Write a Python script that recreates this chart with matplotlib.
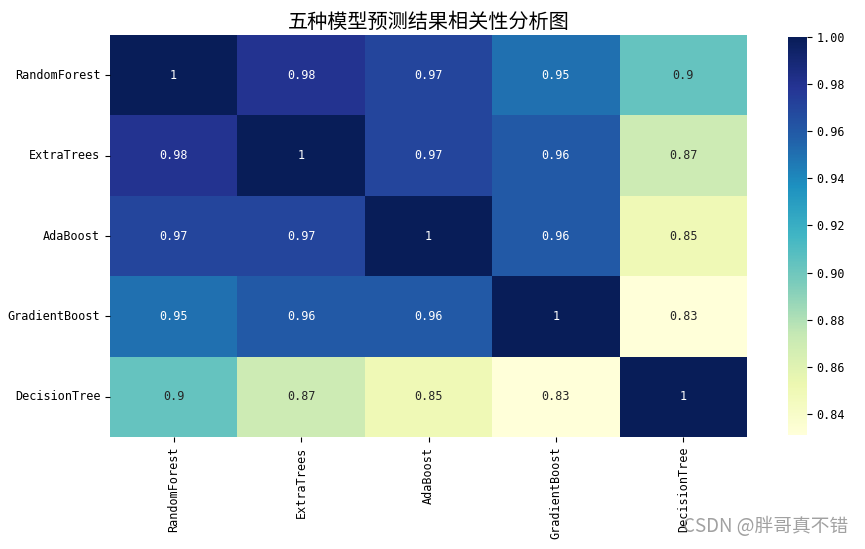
import matplotlib
matplotlib.use("Agg")
import matplotlib.pyplot as plt
import seaborn as sns
import numpy as np
import pandas as pd

models = ["RandomForest", "ExtraTrees", "AdaBoost", "GradientBoost", "DecisionTree"]
row_rf = [1.00, 0.98, 0.97, 0.95, 0.903]
row_et = [0.98, 1.00, 0.97, 0.96, 0.87]
row_ada = [0.97, 0.97, 1.00, 0.96, 0.85]
row_gb = [0.95, 0.96, 0.96, 1.00, 0.831]
row_dt = [0.903, 0.87, 0.85, 0.831, 1.00]
cbar_ticks = [0.84, 0.86, 0.88, 0.90, 0.92, 0.94, 0.96, 0.98, 1.00]
title = "五种模型预测结果相关性分析图"
watermark = "CSDN @胖哥真不错"

corr = pd.DataFrame([row_rf, row_et, row_ada, row_gb, row_dt], index=models, columns=models)

fig = plt.figure(figsize=(8.65, 5.49), dpi=100)
ax = fig.add_axes([110/865, 1-437/549, (747-110)/865, (437-35)/549])
cax = fig.add_axes([788/865, 1-435/549, 19/865, (435-37)/549])

mono = "DejaVu Sans Mono"
sns.heatmap(corr, annot=True, cmap="YlGnBu", ax=ax, cbar_ax=cax,
            annot_kws={"fontsize": 8.5, "family": mono})

ax.set_xticklabels(models, rotation=90, fontsize=8.5, family=mono)
ax.set_yticklabels(models, rotation=0, fontsize=8.5, family=mono)
ax.tick_params(length=3.5, width=0.8)
cax.tick_params(labelsize=8.5, length=3.5, width=0.8)
cax.set_yticks(cbar_ticks)
cax.set_yticklabels([f"{t:.2f}" for t in cbar_ticks], family=mono, fontsize=8.5)

ax.set_title(title, fontsize=14.5, family=["Noto Sans CJK SC", "DejaVu Sans"], pad=5)

fig.text(848/865, 1-526/549, watermark, ha="right", va="center", fontsize=13.5,
         family=["Noto Sans CJK SC", "DejaVu Sans"], color="#8a8a8a", alpha=0.8)

fig.savefig("out.png", dpi=100)
